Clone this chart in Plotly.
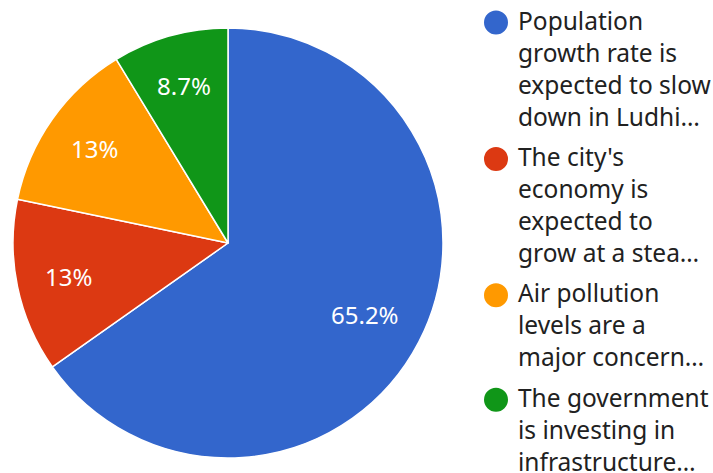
import math
import plotly.graph_objects as go

# ---- data ----
categories = [
    "Population growth rate is expected to slow down in Ludhi…",
    "The city's economy is expected to grow at a stea…",
    "Air pollution levels are a major concern…",
    "The government is investing in infrastructure…",
]
legend_lines = [
    ["Population", "growth rate is", "expected to slow", "down in Ludhi…"],
    ["The city's", "economy is", "expected to", "grow at a stea…"],
    ["Air pollution", "levels are a", "major concern…"],
    ["The government", "is investing in", "infrastructure…"],
]
counts = [15, 3, 3, 2]
colors = ["#3366CC", "#DC3912", "#FF9900", "#109618"]

W, H = 713, 473
FONT = "Noto Sans"

# pie geometry (pixels)
CX, CY, R = 228, 243, 215

fig = go.Figure()
fig.add_trace(go.Pie(
    labels=categories,
    values=counts,
    sort=False,
    direction="clockwise",
    rotation=0,
    marker=dict(colors=colors, line=dict(color="white", width=1.5)),
    textinfo="none",
    domain=dict(x=[(CX - R) / W, (CX + R) / W], y=[(H - CY - R) / H, (H - CY + R) / H]),
    showlegend=False,
    hoverinfo="label+percent",
))

def fmt_pct(v):
    return f"{v * 100:.3g}%"

annotations = []
total = sum(counts)
cum = 0.0
for c in counts:
    frac = c / total
    mid = (cum + frac / 2) * 2 * math.pi
    cum += frac
    rr = 0.76 * R if frac < 0.5 else 0.72 * R
    px = CX + rr * math.sin(mid)
    py = CY - rr * math.cos(mid)
    annotations.append(dict(
        x=px / W, y=1 - py / H, xref="paper", yref="paper",
        xanchor="center", yanchor="middle", showarrow=False,
        text=fmt_pct(frac), font=dict(family=FONT, size=24, color="white"),
    ))

# custom legend (circle markers + wrapped text)
font_size = 24.5
line_h = 1.3 * font_size
gap = 9
top = 1.5
text_x = 516
circ_x = 496
circ_r = 12
shapes = []
for lines, col in zip(legend_lines, colors):
    annotations.append(dict(
        x=text_x / W, y=1 - top / H, xref="paper", yref="paper",
        xanchor="left", yanchor="top", align="left",
        text="<br>".join(lines), showarrow=False,
        font=dict(family=FONT, size=font_size, color="#212121"),
    ))
    cy = top + 21
    shapes.append(dict(
        type="circle", xref="paper", yref="paper",
        x0=(circ_x - circ_r) / W, x1=(circ_x + circ_r) / W,
        y0=1 - (cy + circ_r) / H, y1=1 - (cy - circ_r) / H,
        fillcolor=col, line=dict(width=0),
    ))
    top += len(lines) * line_h + gap

fig.update_layout(
    width=W, height=H,
    margin=dict(l=0, r=0, t=0, b=0),
    paper_bgcolor="white", plot_bgcolor="white",
    annotations=annotations, shapes=shapes,
    font=dict(family=FONT),
)
fig.write_html(
    "out.html",
    config={"displayModeBar": False},
    post_script="document.body.style.margin='0';document.body.style.overflow='hidden';",
)
